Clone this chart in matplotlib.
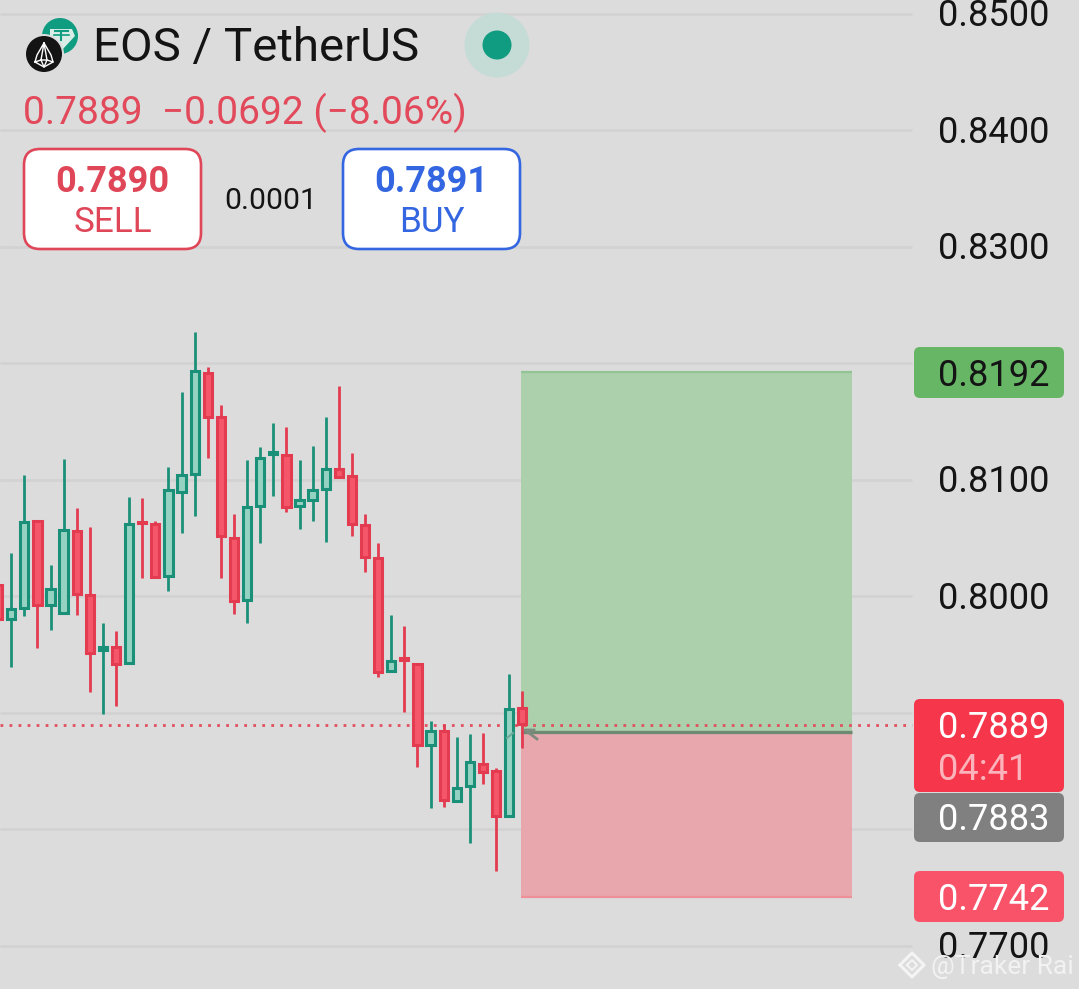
import matplotlib
matplotlib.use('Agg')
import matplotlib.pyplot as plt
from matplotlib.patches import FancyBboxPatch, Circle, Polygon

plt.rcParams['font.family'] = ['Roboto', 'DejaVu Sans']

# candles, left to right
opens = [0.80094, 0.79803, 0.79894, 0.80644, 0.79923, 0.79857, 0.80555, 0.80011, 0.79536, 0.79565,
         0.79428, 0.80638, 0.80618, 0.80172, 0.80896, 0.81047, 0.81917, 0.81539, 0.80498, 0.79969,
         0.80775, 0.81219, 0.81213, 0.80773, 0.80824, 0.80921, 0.81090, 0.81033, 0.80612, 0.80329,
         0.79356, 0.79465, 0.79413, 0.78721, 0.78838, 0.78240, 0.78369, 0.78561, 0.78501, 0.78112,
         0.79041]
closes = [0.79803, 0.79888, 0.80632, 0.79923, 0.80063, 0.80569, 0.80017, 0.79508, 0.79565, 0.79413,
          0.80618, 0.80624, 0.80163, 0.80910, 0.81039, 0.81931, 0.81536, 0.80512, 0.79957, 0.80764,
          0.81185, 0.81239, 0.80761, 0.80824, 0.80910, 0.81090, 0.81019, 0.80615, 0.80332, 0.79345,
          0.79442, 0.79448, 0.78718, 0.78844, 0.78246, 0.78355, 0.78575, 0.78489, 0.78109, 0.79033,
          0.78901]
highs = [0.80094, 0.80366, 0.81036, 0.80644, 0.80266, 0.81173, 0.80753, 0.80589, 0.79765, 0.79697,
         0.80853, 0.80838, 0.80644, 0.81110, 0.81748, 0.82263, 0.81963, 0.81642, 0.80701, 0.81165,
         0.81282, 0.81482, 0.81448, 0.81165, 0.81285, 0.81534, 0.81803, 0.81225, 0.80701, 0.80452,
         0.79834, 0.79740, 0.79413, 0.78930, 0.78901, 0.78787, 0.78813, 0.78821, 0.78521, 0.79330,
         0.79182]
lows = [0.79803, 0.79393, 0.79831, 0.79551, 0.79708, 0.79857, 0.79834, 0.79173, 0.78984, 0.79059,
        0.79428, 0.80157, 0.80163, 0.80046, 0.80538, 0.80690, 0.81187, 0.80152, 0.79848, 0.79765,
        0.80458, 0.80858, 0.80718, 0.80572, 0.80647, 0.80466, 0.81019, 0.80512, 0.80209, 0.79302,
        0.79356, 0.79001, 0.78529, 0.78177, 0.78192, 0.78240, 0.77877, 0.78383, 0.77637, 0.78112,
        0.78692]

grid_prices = [0.85, 0.84, 0.83, 0.82, 0.81, 0.80, 0.79, 0.78, 0.77]
axis_labels = ['0.8500', '0.8400', '0.8300', '0.8100', '0.8000', '0.7700']
axis_label_prices = [0.85, 0.84, 0.83, 0.81, 0.80, 0.77]

entry_price = 0.7883
target_price = 0.8192
stop_price = 0.7742
last_price = 0.7889

GREEN_EDGE = '#1b9079'
GREEN_FACE = '#96d2c2'
RED_EDGE = '#e33b50'
RED_FACE = '#f6566a'
BG = '#dcdcdc'
SCALE_FONT = 26.1

fig = plt.figure(figsize=(10.79, 9.89), dpi=100, facecolor=BG)
ax = fig.add_axes([0, 0, 1, 1], facecolor=BG)
ax.set_xlim(0.145, 82.48)
ax.set_ylim(0.76627, 0.85116)
ax.axis('off')

# grid stops where the price scale starts
grid_end = 912 / 1079
ytrans = ax.get_yaxis_transform()
ax.hlines(grid_prices, 0, grid_end, transform=ytrans, color='#d2d2d2', lw=1.9, zorder=1)

# trade box
zone_left, zone_right = 39.9, 65.15
ax.fill_between([zone_left, zone_right], entry_price, target_price, color='#abd0ab', lw=0, zorder=2)
ax.fill_between([zone_left, zone_right], stop_price, entry_price, color='#e8a7ac', lw=0, zorder=2)
ax.hlines(target_price, zone_left, zone_right, color='#93c493', lw=1.6, zorder=3)
ax.hlines(stop_price, zone_left, zone_right, color='#ef9099', lw=1.6, zorder=3)
ax.hlines(entry_price, zone_left, zone_right, color='#6f8a72', lw=2.4, zorder=3)

# last price line
ax.hlines(last_price, 0, grid_end, transform=ytrans, color='#e0505f', lw=2.0,
          linestyles=(0, (1, 2.25)), zorder=4)

# candles
for i in range(len(opens)):
    up = closes[i] >= opens[i]
    edge = GREEN_EDGE if up else RED_EDGE
    face = GREEN_FACE if up else RED_FACE
    ax.vlines(i, lows[i], highs[i], color=edge, lw=2.0, zorder=5)
    ax.bar(i, closes[i] - opens[i], bottom=opens[i], width=0.63, facecolor=face,
           edgecolor=edge, lw=2.2, zorder=6)

# everything that is screen furniture goes on a pixel overlay
ui = fig.add_axes([0, 0, 1, 1])
ui.set_xlim(0, 1079)
ui.set_ylim(989, 0)
ui.axis('off')
ui.patch.set_alpha(0)

# price scale labels, text centre sits a little under the grid line
for price, label in zip(axis_label_prices, axis_labels):
    ax.annotate(label, (938 / 1079, price), xycoords=ytrans, xytext=(0, -2.5),
                textcoords='offset pixels', fontsize=SCALE_FONT, color='#141414',
                va='center', ha='left', zorder=7, annotation_clip=False)


def tag(x0, y0, x1, y1, color, r=6):
    ui.add_patch(FancyBboxPatch((x0 + r, y0 + r), x1 - x0 - 2 * r, y1 - y0 - 2 * r,
                                boxstyle=f'round,pad={r},rounding_size={r}',
                                facecolor=color, edgecolor='none', zorder=3))


tag(914, 347, 1064, 398, '#66b666')
ui.text(938, 375.5, '0.8192', fontsize=SCALE_FONT, color='#141414', va='center', zorder=4)
tag(914, 699, 1064, 792, '#f5364b')
ui.text(938, 727.5, '0.7889', fontsize=SCALE_FONT, color='white', va='center', zorder=4)
ui.text(938, 769.5, '04:41', fontsize=SCALE_FONT, color='#fbb4bb', va='center', zorder=4)
tag(914, 793, 1064, 842, '#808080')
ui.text(938, 820.5, '0.7883', fontsize=SCALE_FONT, color='white', va='center', zorder=4)
tag(914, 871, 1064, 922, '#f9536a')
ui.text(938, 899.5, '0.7742', fontsize=SCALE_FONT, color='white', va='center', zorder=4)

# small arrow at the entry line and the tick on the last green candle
ui.plot([537, 525, 534], [739, 730, 730], color='#7f8a80', lw=2, zorder=2)
ui.plot([507, 513], [738, 733], color='#6fa898', lw=1.5, zorder=2)

# header logos
ui.add_patch(Circle((60, 36), 18, facecolor='#0f9c80', edgecolor='none', zorder=2))
ui.add_patch(Polygon([(50, 29), (72, 29), (75, 36), (62, 50), (50, 37)], closed=True,
                     facecolor='#d9ece6', edgecolor='none', zorder=2))
ui.plot([55, 68], [31, 31], color='#0f9c80', lw=1.5, zorder=2)
ui.plot([54, 69], [35, 35], color='#0f9c80', lw=1.2, zorder=2)
ui.plot([61, 61], [31, 40], color='#0f9c80', lw=1.5, zorder=2)
ui.add_patch(Circle((44, 54), 20, facecolor=BG, edgecolor='none', zorder=3))
ui.add_patch(Circle((44, 54), 18, facecolor='#141414', edgecolor='none', zorder=4))
ui.plot([44, 37, 35, 44, 53, 51, 44, 41, 35], [43, 55, 62, 67, 62, 55, 43, 60, 62],
        color='white', lw=1, zorder=5)
ui.plot([44, 47, 53], [43, 60, 62], color='white', lw=1, zorder=5)
ui.plot([41, 47, 44, 41], [60, 60, 67, 60], color='white', lw=1, zorder=5)

ui.text(93, 47.5, 'EOS / TetherUS', fontsize=34.2, color='#141414', va='center', zorder=4)
ui.add_patch(Circle((497, 45), 32.5, facecolor='#c5dbd6', edgecolor='none', zorder=2))
ui.add_patch(Circle((497, 45), 14.5, facecolor='#0f9c80', edgecolor='none', zorder=3))

ui.text(23, 112.5, '0.7889  \u22120.0692 (\u22128.06%)', fontsize=28, color='#e2495a',
        va='center', zorder=4)

# sell and buy buttons
for x0, x1, color, price, word in [(24, 201, '#df4658', '0.7890', 'SELL'),
                                   (343, 520, '#3366e0', '0.7891', 'BUY')]:
    ui.add_patch(FancyBboxPatch((x0 + 16, 149 + 16), x1 - x0 - 32, 100 - 32,
                                boxstyle='round,pad=16,rounding_size=16',
                                facecolor='white', edgecolor=color, lw=1.9, zorder=3))
    ui.text((x0 + x1) / 2, 182, price, fontsize=26, fontweight='bold', color=color,
            ha='center', va='center', zorder=4)
    ui.text((x0 + x1) / 2, 223, word, fontsize=25.3, color=color, ha='center', va='center', zorder=4)
ui.text(271, 201, '0.0001', fontsize=21.7, color='#141414', ha='center', va='center', zorder=4)

# watermark
ui.plot([900, 912, 924, 912, 900], [965, 953, 965, 977, 965], color='#f4f4f4', lw=2.2, zorder=5)
ui.plot([907, 912, 917, 912, 907], [965, 960, 965, 970, 965], color='#f4f4f4', lw=1.5, zorder=5)
ui.text(931, 967, '@Traker Rai', fontsize=19, color='#f2f2f2', va='center', zorder=5)

fig.savefig('out.png', dpi=100, facecolor=BG)
